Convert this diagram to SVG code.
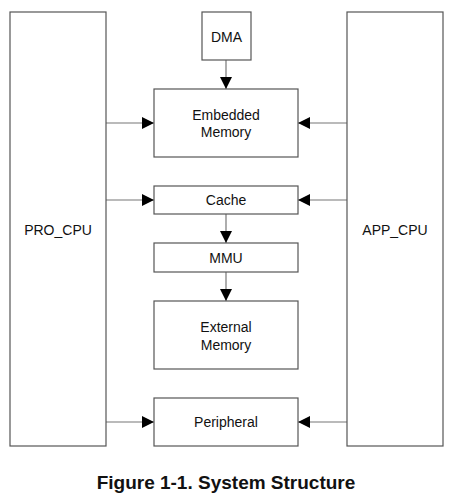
<svg xmlns="http://www.w3.org/2000/svg" width="456" height="500" viewBox="0 0 456 500">
<style>
.box{fill:#fff;stroke:#555;stroke-width:1.2}
.lbl{font-family:"Liberation Sans",Arial,sans-serif;font-size:14px;fill:#111;text-anchor:middle}
.ln{stroke:#777;stroke-width:1.2;fill:none}
.ttl{font-family:"Liberation Sans",Arial,sans-serif;font-size:19px;font-weight:bold;fill:#111;text-anchor:middle}
</style>
<defs>
<marker id="ah" viewBox="0 0 12 12" refX="12" refY="6" markerWidth="12" markerHeight="12" markerUnits="userSpaceOnUse" orient="auto">
<path d="M0,0 L12,6 L0,12 Z" fill="#000"/>
</marker>
</defs>
<rect width="456" height="500" fill="#fff"/>
<g id="connectors">
<line class="ln" x1="106" y1="123" x2="154" y2="123" marker-end="url(#ah)"/>
<line class="ln" x1="106" y1="200" x2="154" y2="200" marker-end="url(#ah)"/>
<line class="ln" x1="106" y1="422" x2="154" y2="422" marker-end="url(#ah)"/>
<line class="ln" x1="347" y1="123" x2="298" y2="123" marker-end="url(#ah)"/>
<line class="ln" x1="347" y1="200" x2="298" y2="200" marker-end="url(#ah)"/>
<line class="ln" x1="347" y1="422" x2="298" y2="422" marker-end="url(#ah)"/>
<line class="ln" x1="226" y1="60" x2="226" y2="89" marker-end="url(#ah)"/>
<line class="ln" x1="226" y1="214" x2="226" y2="243" marker-end="url(#ah)"/>
<line class="ln" x1="226" y1="272" x2="226" y2="301" marker-end="url(#ah)"/>
</g>
<g id="pro_cpu"><rect class="box" x="10" y="12" width="96" height="434"/><text class="lbl" x="58" y="235">PRO_CPU</text></g>
<g id="app_cpu"><rect class="box" x="347" y="12" width="96" height="434"/><text class="lbl" x="395" y="235">APP_CPU</text></g>
<g id="dma"><rect class="box" x="202" y="12" width="49" height="48"/><text class="lbl" x="226.5" y="42">DMA</text></g>
<g id="embedded"><rect class="box" x="154" y="89" width="144" height="68"/><text class="lbl" x="226" y="120">Embedded</text><text class="lbl" x="226" y="137">Memory</text></g>
<g id="cache"><rect class="box" x="154" y="186" width="144" height="28"/><text class="lbl" x="226" y="205">Cache</text></g>
<g id="mmu"><rect class="box" x="154" y="243" width="144" height="29"/><text class="lbl" x="226" y="263">MMU</text></g>
<g id="external"><rect class="box" x="154" y="301" width="144" height="68"/><text class="lbl" x="226" y="332">External</text><text class="lbl" x="226" y="350">Memory</text></g>
<g id="peripheral"><rect class="box" x="154" y="398" width="144" height="48"/><text class="lbl" x="226" y="427">Peripheral</text></g>
<text class="ttl" x="226" y="489">Figure 1-1. System Structure</text>
</svg>
